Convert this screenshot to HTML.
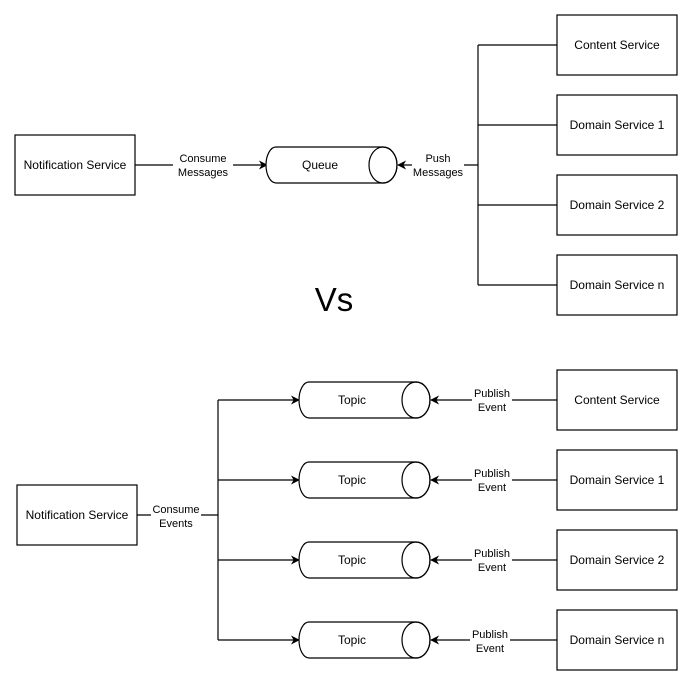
<!DOCTYPE html>
<html><head><style>body{margin:0;background:#fff}svg{display:block}</style></head><body>
<svg width="693" height="686" viewBox="0 0 693 686" xmlns="http://www.w3.org/2000/svg" font-family="Liberation Sans, Arial, sans-serif">
<defs><marker id="a" viewBox="0 0 10 10" refX="9" refY="5" markerWidth="9" markerHeight="9" orient="auto" markerUnits="userSpaceOnUse"><path d="M0,0 L10,5 L0,10 L3,5 Z" fill="#000"/></marker></defs>
<g stroke="#000" stroke-width="1.2" fill="none">
<rect x="15" y="135" width="120" height="60" fill="#fff"/>
<line x1="135" y1="165" x2="267" y2="165" marker-end="url(#a)"/>
<path d="M276,147 H383 A14,18 0 0 1 383,183 H276 A10,18 0 0 1 276,147 Z" fill="#fff"/>
<ellipse cx="383" cy="165" rx="14" ry="18"/>
<line x1="478" y1="165" x2="398" y2="165" marker-end="url(#a)"/>
<line x1="478" y1="45" x2="478" y2="285"/>
<line x1="478" y1="45" x2="557" y2="45"/><line x1="478" y1="125" x2="557" y2="125"/><line x1="478" y1="205" x2="557" y2="205"/><line x1="478" y1="285" x2="557" y2="285"/>
<rect x="557" y="15" width="120" height="60"/><rect x="557" y="95" width="120" height="60"/><rect x="557" y="175" width="120" height="60"/><rect x="557" y="255" width="120" height="60"/>
<rect x="17" y="485" width="120" height="60"/>
<line x1="137" y1="515" x2="218" y2="515"/>
<line x1="218" y1="400" x2="218" y2="640"/>
<g id="t">
<line x1="218" y1="400" x2="299" y2="400" marker-end="url(#a)"/>
<path d="M309,382 H416 A14,18 0 0 1 416,418 H309 A10,18 0 0 1 309,382 Z" fill="#fff"/>
<ellipse cx="416" cy="400" rx="14" ry="18"/>
<line x1="557" y1="400" x2="431" y2="400" marker-end="url(#a)"/>
<rect x="557" y="370" width="120" height="60"/>
</g>
<use href="#t" y="80"/><use href="#t" y="160"/><use href="#t" y="240"/>
</g>
<g font-size="12" text-anchor="middle" fill="#000">
<text x="75" y="169">Notification Service</text>
<rect x="173" y="150" width="60" height="30" fill="#fff"/>
<text x="203" y="162" font-size="11">Consume</text><text x="203" y="176" font-size="11">Messages</text>
<text x="320" y="169">Queue</text>
<rect x="412" y="150" width="52" height="30" fill="#fff"/>
<text x="438" y="162" font-size="11">Push</text><text x="438" y="176" font-size="11">Messages</text>
<text x="617" y="49">Content Service</text><text x="617" y="129">Domain Service 1</text><text x="617" y="209">Domain Service 2</text><text x="617" y="289">Domain Service n</text>
<text x="334" y="311" font-size="33">Vs</text>
<text x="77" y="519">Notification Service</text>
<rect x="151" y="501" width="50" height="30" fill="#fff"/>
<text x="176" y="513" font-size="11">Consume</text><text x="176" y="527" font-size="11">Events</text>
<text x="352" y="404">Topic</text><text x="352" y="484">Topic</text><text x="352" y="564">Topic</text><text x="352" y="644">Topic</text>
<g font-size="11">
<rect x="472" y="386" width="40" height="30" fill="#fff"/><text x="492" y="397">Publish</text><text x="492" y="411">Event</text>
<rect x="472" y="466" width="40" height="30" fill="#fff"/><text x="492" y="477">Publish</text><text x="492" y="491">Event</text>
<rect x="472" y="546" width="40" height="30" fill="#fff"/><text x="492" y="557">Publish</text><text x="492" y="571">Event</text>
<rect x="470" y="626" width="40" height="30" fill="#fff"/><text x="490" y="638">Publish</text><text x="490" y="652">Event</text>
</g>
<text x="617" y="404">Content Service</text><text x="617" y="484">Domain Service 1</text><text x="617" y="564">Domain Service 2</text><text x="617" y="644">Domain Service n</text>
</g>
</svg>
</body></html>
